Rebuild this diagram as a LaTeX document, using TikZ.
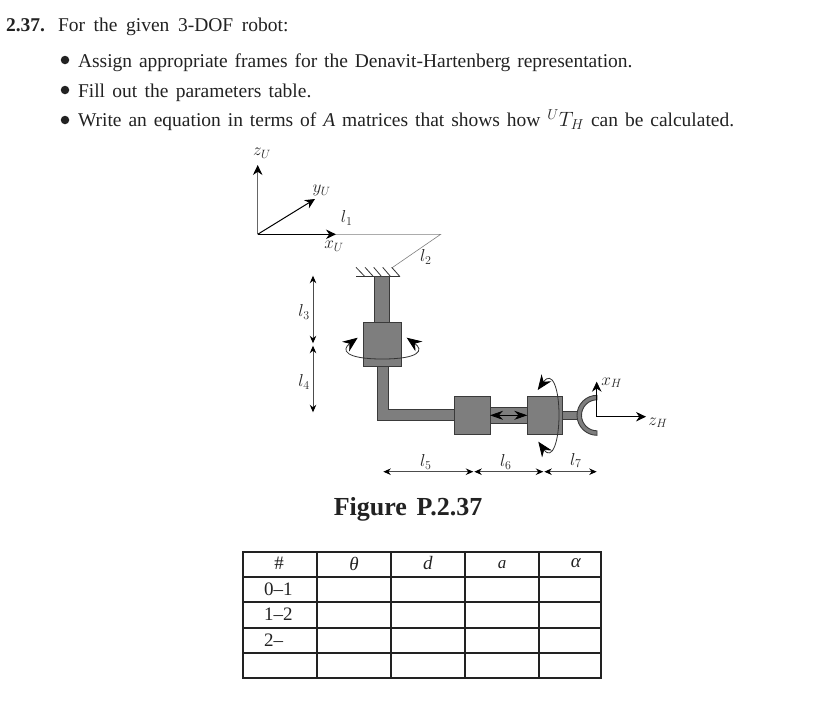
\documentclass[tikz,border=0pt]{standalone}
\usepackage{fontspec}
\setmainfont[WordSpace=1.5]{Liberation Serif}
\usetikzlibrary{arrows.meta}
\definecolor{ink}{HTML}{222222}
\definecolor{part}{HTML}{7E7E7E}
\definecolor{edge}{HTML}{3A3A3A}
\tikzset{
  x=1pt,y=-1pt,
  body/.style={anchor=base west,inner sep=0pt,outer sep=0pt,text=ink,font=\fontsize{19.5}{22}\selectfont},
  dot/.style={circle,fill=ink,draw=none,minimum size=8.5pt,inner sep=0pt},
  lab/.style={inner sep=0pt,text=black!85,font=\fontsize{17}{19}\selectfont},
  cell/.style={inner sep=0pt,text=ink,font=\fontsize{19}{21}\selectfont},
  solid part/.style={fill=part,draw=edge,line width=0.9pt},
  axis/.style={line width=1pt,-{Stealth[length=10pt,width=9.5pt,black]}},
  dim/.style={line width=1pt,draw=black!70,{Stealth[length=7.5pt,width=6.5pt,black]}-{Stealth[length=7.5pt,width=6.5pt,black]}},
  spin/.style={line width=0.8pt,draw=black!80,{Stealth[length=15pt,width=12pt,black]}-{Stealth[length=15pt,width=12pt,black]}},
  thin guide/.style={line width=0.6pt,draw=black!50},
  hatch/.style={line width=0.8pt,draw=black!80},
  grid/.style={line width=1.7pt,draw=ink}
}
\begin{document}
\begin{tikzpicture}
\useasboundingbox (0,0) rectangle (826,712);
\fill[white] (0,0) rectangle (826,712);
% text
\node[body,font=\fontsize{19.5}{22}\selectfont\bfseries] (num) at (6,31.5) {2.37.};
\node[body] (t0) at (58,31.5) {\spaceskip=8.6pt For the given 3-DOF robot:};
\node[dot] (b1) at (65,60) {};
\node[dot] (b2) at (65,90) {};
\node[dot] (b3) at (65,120) {};
\node[body] (t1) at (78,67.3) {\spaceskip=6.85pt Assign appropriate frames for the Denavit-Hartenberg representation.};
\node[body] (t2) at (78,97) {Fill out the parameters table.};
\node[body] (t3) at (78,126.7) {\spaceskip=6.9pt Write an equation in terms of \textit{A} matrices that shows how ${}^{U}T_{H}$ can be calculated.};
% universe frame
\coordinate (O) at (257.7,234.3);
\coordinate (zU) at (257.7,165);
\coordinate (yU) at (315,199);
\coordinate (xU) at (336,234.3);
\coordinate (g1) at (440.7,234.3);
\coordinate (g2) at (391.7,268);
\draw[thin guide] (xU) -- (g1) -- (g2);
\draw[axis,draw=black!60] (O) -- (zU);
\draw[axis] (O) -- (yU);
\draw[axis] (O) -- (xU);
\node[lab] (lzU) at (262,153) {$z_U$};
\node[lab] (lyU) at (321.7,190.7) {$y_U$};
\node[lab] (lxU) at (334,246) {$x_U$};
\node[lab] (l1) at (346.7,218) {$l_1$};
\node[lab] (l2) at (425.7,256.7) {$l_2$};
% ground
\draw[hatch] (356,276.7) -- (400,276.7);
\foreach \a/\b in {356/365,365/373.5,373.7/381.7,382.7/390.7,391.7/400}
  \draw[hatch] (\a,267.3) -- (\b,276.7);
% robot
\draw[solid part] (374.3,276.7) rectangle (389,322.3);
\draw[solid part] (363.3,322.3) rectangle (401.7,366.3);
\draw[solid part] (377,366.3) -- (388.3,366.3) -- (388.3,409) -- (454.3,409) -- (454.3,420) -- (377,420) -- cycle;
\draw[solid part] (454.3,396.3) rectangle (490,434.3);
\draw[solid part] (490,407.7) rectangle (527.3,423.3);
\draw[solid part] (527.3,396.3) rectangle (562.7,434.3);
\draw[solid part] (562.7,411.7) rectangle (578,419);
\draw[solid part] (597,395.3) arc[start angle=270,end angle=90,radius=20] -- (597,430.8) arc[start angle=90,end angle=270,radius=15.5] -- cycle;
% slide arrow
\coordinate (s1) at (490,415.3);
\coordinate (s2) at (527.3,415.3);
\draw[line width=0.9pt,{Stealth[length=13pt,width=9pt]}-{Stealth[length=13pt,width=9pt]}] (s1) -- (s2);
% spin about the vertical axis
\coordinate (r1) at (357.7,337.7);
\coordinate (r2) at (406.7,337.7);
\draw[spin] (r1) .. controls (341,350) and (345,359) .. (382.3,359) .. controls (420,359) and (424,350) .. (r2);
% spin about the horizontal axis
\coordinate (r3) at (537.7,390);
\coordinate (r4) at (538.3,441.7);
\draw[spin] (r3) .. controls (552,370) and (559,388) .. (559,415) .. controls (559,442) and (552,461) .. (r4);
% hand frame
\coordinate (H) at (596.7,416.7);
\coordinate (xH) at (596.7,381.7);
\coordinate (zH) at (646,416.7);
\draw[axis,line width=0.8pt] (H) -- (xH);
\draw[axis,line width=0.8pt] (H) -- (zH);
\node[lab] (lxH) at (611.7,382.7) {$x_H$};
\node[lab] (lzH) at (658,422.7) {$z_H$};
% dimensions
\coordinate (d3a) at (313,275.7);
\coordinate (d3b) at (313,343.3);
\coordinate (d4a) at (313,345.7);
\coordinate (d4b) at (313,412.3);
\coordinate (d5a) at (383.3,471.7);
\coordinate (d5b) at (473.3,471.7);
\coordinate (d6a) at (474.3,471.7);
\coordinate (d6b) at (543.3,471.7);
\coordinate (d7a) at (544.3,471.7);
\coordinate (d7b) at (596.7,471.7);
\draw[dim] (d3a) -- (d3b);
\draw[dim] (d4a) -- (d4b);
\draw[dim] (d5a) -- (d5b);
\draw[dim] (d6a) -- (d6b);
\draw[dim] (d7a) -- (d7b);
\node[lab] (l3) at (304,311.7) {$l_3$};
\node[lab] (l4) at (304,382) {$l_4$};
\node[lab] (l5) at (425.7,461.7) {$l_5$};
\node[lab] (l6) at (505.7,461.7) {$l_6$};
\node[lab] (l7) at (575.7,460.5) {$l_7$};
\node[inner sep=0pt,text=ink,font=\fontsize{26}{28}\selectfont\bfseries] (cap) at (408,509) {Figure P.2.37};
% table
\foreach \v in {243,317,391,465,539.3,601}
  \draw[grid] (\v,551.7) -- (\v,678.3);
\foreach \h in {551.7,576.7,602.3,627.7,652.7,678.3}
  \draw[grid,line cap=rect] (243,\h) -- (601,\h);
\node[cell] (c0) at (279,563.5) {\#};
\node[cell] (c1) at (354,563.5) {\textit{θ}};
\node[cell] (c2) at (428,563) {\textit{d}};
\node[cell,font=\fontsize{17}{19}\selectfont] (c3) at (502,564.5) {\textit{a}};
\node[cell] (c4) at (576,563.5) {\textit{α}};
\node[cell,anchor=west] (r1c) at (264,589) {0–1};
\node[cell,anchor=west] (r2c) at (264,614) {1–2};
\node[cell,anchor=west] (r3c) at (264,640) {2–};
\end{tikzpicture}
\end{document}
